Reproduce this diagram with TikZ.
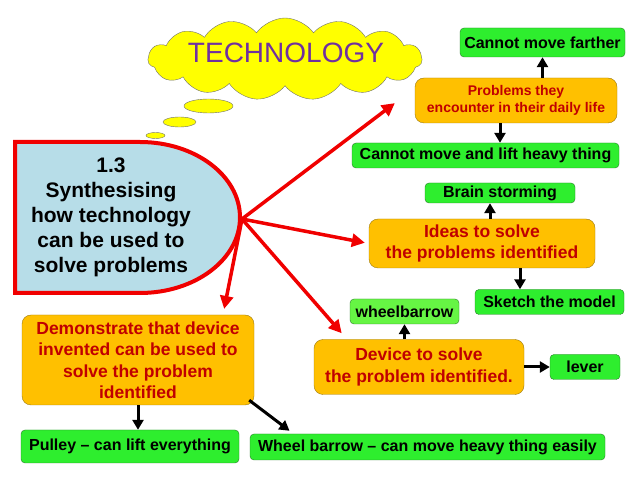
\documentclass[tikz,border=0pt]{standalone}
\usepackage{fontspec}
\setmainfont{Liberation Sans}
\usetikzlibrary{shapes.symbols,arrows.meta}

\definecolor{boxgreen}{HTML}{2EEE2E}
\definecolor{lightgreen}{HTML}{66F544}
\definecolor{greenline}{HTML}{2A7A2A}
\definecolor{boxorange}{HTML}{FFC000}
\definecolor{orangeline}{HTML}{9C7A10}
\definecolor{textred}{HTML}{C00000}
\definecolor{arrowred}{HTML}{F00000}
\definecolor{topicblue}{HTML}{B7DDE8}
\definecolor{cloudyellow}{HTML}{FFFF00}
\definecolor{cloudline}{HTML}{707070}
\definecolor{techpurple}{HTML}{7030A0}

\begin{document}
\begin{tikzpicture}[x=1pt,y=-1pt]

\useasboundingbox (0,0) rectangle (638,478);

\tikzstyle{greenbox}=[draw=greenline,fill=boxgreen,rounded corners=4pt,inner sep=0pt,font=\fontsize{16}{19}\selectfont\bfseries];
\tikzstyle{orangebox}=[draw=orangeline,fill=boxorange,rounded corners=9pt,inner sep=0pt,align=center,text=textred,font=\fontsize{17.5}{21.5}\selectfont\bfseries];
\tikzstyle{blackarrow}=[line width=3pt,-{Triangle[length=10pt,width=11pt]}];
\tikzstyle{redarrow}=[draw=arrowred,line width=3.5pt,-{Triangle[length=13pt,width=13pt]}];
\tikzstyle{bubble}=[draw=cloudline,fill=cloudyellow];

% Draw the thought cloud and its bubbles
\node[cloud,cloud puffs=15,cloud puff arc=110,aspect=3.4,bubble,minimum width=274pt,minimum height=82pt] (cloud) at (285,59) {};
\node[text=techpurple,font=\fontsize{28}{30}\selectfont] (tech) at (286,53) {TECHNOLOGY};
\foreach \cx/\cy/\rx/\ry in {208.5/106/24.5/7, 179.5/122/16.5/5, 155.5/135.5/9.5/3}
  \draw[bubble] (\cx,\cy) ellipse [x radius=\rx, y radius=\ry];

% Draw the topic shape
\draw[draw=arrowred,line width=4pt,fill=topicblue] (15,142) -- (140,142) arc (-90:90:100 and 75.5) -- (15,293) -- cycle;
\node[font=\fontsize{21}{25}\selectfont\bfseries,align=center] (topic) at (111,217.5) {1.3\\Synthesising\\how technology\\can be used to\\solve problems};
\coordinate (hub) at (242,219);

% Draw the boxes on the right
\node[greenbox,minimum width=165pt,minimum height=29pt] (farther) at (542.5,42.5) {Cannot move farther};
\node[orangebox,minimum width=202pt,minimum height=45pt,font=\fontsize{14}{17}\selectfont\bfseries] (problems) at (516,100.5) {Problems they\\encounter in their daily life};
\node[greenbox,minimum width=267pt,minimum height=25pt] (lift) at (485.5,155.5) {Cannot move and lift heavy thing};
\node[greenbox,minimum width=150pt,minimum height=20pt] (brain) at (500,193) {Brain storming};
\node[orangebox,minimum width=226pt,minimum height=49pt] (ideas) at (482,243.5) {Ideas to solve\\the problems identified};
\node[greenbox,minimum width=149pt,minimum height=25pt] (sketch) at (549.5,302) {Sketch the model};
\node[greenbox,fill=lightgreen,minimum width=109pt,minimum height=25pt] (wheel) at (404.5,311.5) {wheelbarrow};
\node[orangebox,minimum width=210pt,minimum height=55pt] (device) at (419,367) {Device to solve\\the problem identified.};
\node[greenbox,minimum width=70pt,minimum height=25pt] (lever) at (585,367) {lever};

% Draw the boxes at the bottom
\node[orangebox,minimum width=232pt,minimum height=90pt] (demo) at (138,360) {Demonstrate that device\\invented can be used to\\solve the problem\\identified};
\node[greenbox,minimum width=218pt,minimum height=33pt] (pulley) at (130,446.5) {Pulley – can lift everything};
\node[greenbox,minimum width=355pt,minimum height=26pt] (wbarrow) at (427.5,447) {Wheel barrow – can move heavy thing easily};

% Red arrows out of the topic
\draw[redarrow,shorten >=25pt] (hub) -- ([yshift=12.5pt]problems.west);
\draw[redarrow,shorten >=4pt] (hub) -- (ideas.west);
\draw[redarrow,shorten >=6pt] (hub) -- ([xshift=85pt]demo.north);
\draw[redarrow,shorten >=8pt] (hub) -- ([xshift=-72pt]device.north);

% Black arrows between the boxes
\draw[blackarrow] (farther.south |- problems.north) -- (farther.south);
\draw[blackarrow] ([xshift=-16pt]problems.south) -- ([xshift=-16pt]problems.south |- lift.north);
\draw[blackarrow] ([xshift=8pt]ideas.north) -- ([xshift=8pt]ideas.north |- brain.south);
\draw[blackarrow] ([xshift=38pt]ideas.south) -- ([xshift=38pt]ideas.south |- sketch.north);
\draw[blackarrow] (wheel.south |- device.north) -- (wheel.south);
\draw[blackarrow] (device.east) -- (lever.west);
\draw[blackarrow] (demo.south) -- (demo.south |- pulley.north);
\draw[blackarrow,shorten >=5pt] ([shift={(-5pt,5pt)}]demo.south east) -- ([xshift=-134pt]wbarrow.north);

\end{tikzpicture}
\end{document}
